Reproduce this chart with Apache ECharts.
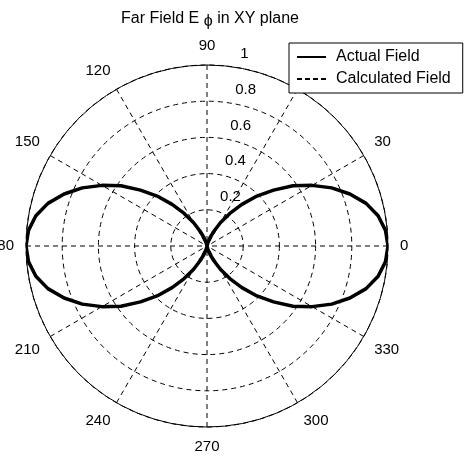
<!DOCTYPE html>
<html>
<head>
<meta charset="utf-8">
<script src="https://cdn.jsdelivr.net/npm/echarts@6/dist/echarts.min.js"></script>
<style>
  html, body { margin: 0; padding: 0; background: #fff; }
  #main { width: 474px; height: 476px; }
</style>
</head>
<body>
<div id="main"></div>
<script>
// angles in degrees, read every 5 deg
var angles = [0, 5, 10, 15, 20, 25, 30, 35, 40, 45, 50, 55, 60, 65, 70, 75, 80, 85, 90,
  95, 100, 105, 110, 115, 120, 125, 130, 135, 140, 145, 150, 155, 160, 165, 170, 175, 180,
  185, 190, 195, 200, 205, 210, 215, 220, 225, 230, 235, 240, 245, 250, 255, 260, 265, 270,
  275, 280, 285, 290, 295, 300, 305, 310, 315, 320, 325, 330, 335, 340, 345, 350, 355, 360]

var actualField = [1.00, 0.99, 0.96, 0.91, 0.84, 0.76, 0.67, 0.58, 0.48, 0.39, 0.30, 0.22, 0.15, 0.09, 0.05, 0.02, 0.01, 0.00, 0.00,
  0.00, 0.01, 0.02, 0.05, 0.09, 0.15, 0.22, 0.30, 0.39, 0.48, 0.58, 0.67, 0.76, 0.84, 0.91, 0.96, 0.99, 1.00,
  0.99, 0.96, 0.91, 0.84, 0.76, 0.67, 0.58, 0.48, 0.39, 0.30, 0.22, 0.15, 0.09, 0.05, 0.02, 0.01, 0.00, 0.00,
  0.00, 0.01, 0.02, 0.05, 0.09, 0.15, 0.22, 0.30, 0.39, 0.48, 0.58, 0.67, 0.76, 0.84, 0.91, 0.96, 0.99, 1.00]

var calculatedField = [1.00, 0.99, 0.96, 0.91, 0.84, 0.76, 0.67, 0.58, 0.48, 0.39, 0.30, 0.22, 0.15, 0.09, 0.05, 0.02, 0.01, 0.00, 0.00,
  0.00, 0.01, 0.02, 0.05, 0.09, 0.15, 0.22, 0.30, 0.39, 0.48, 0.58, 0.67, 0.76, 0.84, 0.91, 0.96, 0.99, 1.00,
  0.99, 0.96, 0.91, 0.84, 0.76, 0.67, 0.58, 0.48, 0.39, 0.30, 0.22, 0.15, 0.09, 0.05, 0.02, 0.01, 0.00, 0.00,
  0.00, 0.01, 0.02, 0.05, 0.09, 0.15, 0.22, 0.30, 0.39, 0.48, 0.58, 0.67, 0.76, 0.84, 0.91, 0.96, 0.99, 1.00]

var angleTicks = [0, 30, 60, 90, 120, 150, 180, 210, 240, 270, 300, 330]
var radiusTicks = [0.2, 0.4, 0.6, 0.8, 1]

var font = 'Liberation Sans, Arial, sans-serif'
var dash = [5, 4]

var myChart = echarts.init(document.getElementById('main'))

var option = {
  animation: false,
  backgroundColor: '#fff',
  title: {
    text: 'Far Field E {p|ϕ} in XY plane',
    left: 205,
    textAlign: 'center',
    top: 3,
    textStyle: {
      fontFamily: font,
      fontSize: 16,
      fontWeight: 'normal',
      color: '#000',
      rich: {
        p: { fontFamily: font, fontSize: 16, color: '#000', padding: [6, 0, 0, 0] }
      }
    }
  },
  legend: {
    orient: 'vertical',
    left: 289,
    top: 43,
    padding: [6, 12, 6, 7],
    itemWidth: 29,
    itemHeight: 14,
    itemGap: 6,
    backgroundColor: '#fff',
    borderColor: '#000',
    borderWidth: 1,
    borderRadius: 0,
    itemStyle: { opacity: 0 },
    textStyle: {
      fontFamily: font,
      fontSize: 16,
      color: '#000',
      padding: [0, 0, 0, 5]
    },
    data: ['Actual Field', 'Calculated Field']
  },
  polar: [
    { center: [207, 246], radius: 181 },
    { center: [207, 246], radius: 181 }
  ],
  angleAxis: [
    {
      polarIndex: 0,
      type: 'value',
      min: 0,
      max: 360,
      interval: 30,
      startAngle: 0,
      clockwise: false,
      axisLine: { lineStyle: { color: '#000', width: 1 } },
      axisTick: { show: false },
      axisLabel: {
        margin: 12,
        align: 'center',
        verticalAlign: 'middle',
        fontFamily: font,
        fontSize: 15,
        color: '#000',
        formatter: function (v) {
          return angleTicks.indexOf(v) >= 0 ? String(v) : ''
        }
      },
      splitLine: { show: true, lineStyle: { color: '#000', width: 1, type: dash } }
    },
    {
      polarIndex: 1,
      type: 'value',
      min: 0,
      max: 360,
      startAngle: 82,
      show: false
    }
  ],
  radiusAxis: [
    {
      polarIndex: 0,
      min: 0,
      max: 1,
      interval: 0.2,
      axisLine: { show: false },
      axisTick: { show: false },
      axisLabel: { show: false },
      splitLine: { show: true, lineStyle: { color: '#000', width: 1, type: dash } }
    },
    {
      polarIndex: 1,
      min: 0,
      max: 1,
      interval: 0.2,
      axisLine: { show: false },
      axisTick: { show: false },
      splitLine: { show: false },
      axisLabel: {
        margin: 4,
        fontFamily: font,
        fontSize: 15,
        color: '#000',
        align: 'left',
        verticalAlign: 'bottom',
        padding: [0, 0, 5, 12],
        formatter: function (v) {
          return radiusTicks.indexOf(Math.round(v * 10) / 10) >= 0 ? String(Math.round(v * 10) / 10) : ''
        }
      }
    }
  ],
  series: [
    {
      name: 'Actual Field',
      type: 'line',
      coordinateSystem: 'polar',
      polarIndex: 0,
      symbol: 'none',
      lineStyle: { color: '#000', width: 3.5 },
      itemStyle: { color: '#000' },
      data: actualField.map(function (r, i) { return [r, angles[i]] })
    },
    {
      name: 'Calculated Field',
      type: 'line',
      coordinateSystem: 'polar',
      polarIndex: 0,
      symbol: 'none',
      lineStyle: { color: '#000', width: 2, type: [5, 3] },
      itemStyle: { color: '#000' },
      data: calculatedField.map(function (r, i) { return [r, angles[i]] })
    }
  ]
}

option && myChart.setOption(option)

window.addEventListener('resize', function () {
  myChart.resize()
})
</script>
</body>
</html>
